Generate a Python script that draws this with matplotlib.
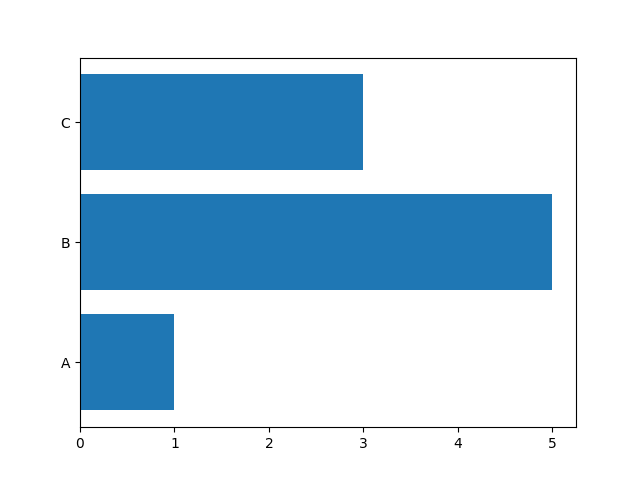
import matplotlib
matplotlib.use("Agg")
import matplotlib.pyplot as plt

categories = ["A", "B", "C"]
values = [1, 5, 3]

fig, ax = plt.subplots(figsize=(6.4, 4.8), dpi=100)
ax.barh(categories, values, color="#1f77b4")
fig.savefig("out.png")
